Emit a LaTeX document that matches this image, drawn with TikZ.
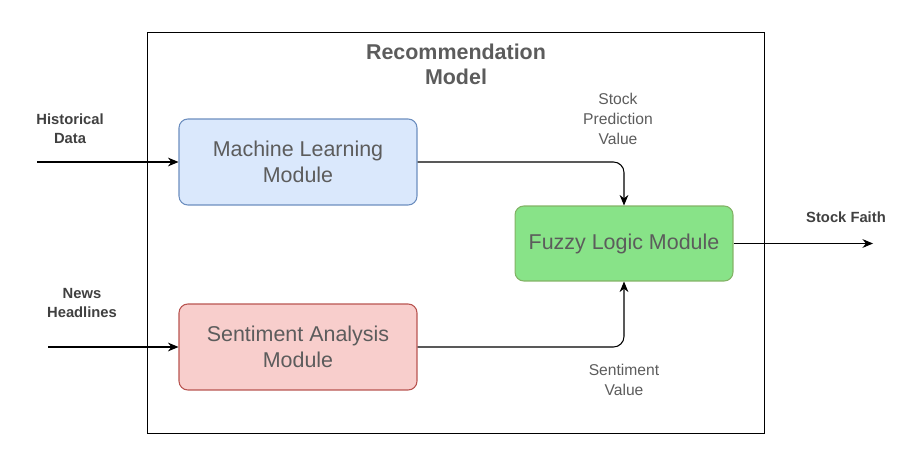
\documentclass[tikz,border=0pt]{standalone}
\usepackage{fontspec}
\setmainfont{Liberation Sans}
\usepackage{xcolor}
\usetikzlibrary{arrows.meta,positioning}

\definecolor{mlfill}{HTML}{DAE8FC}
\definecolor{mldraw}{HTML}{6C8EBF}
\definecolor{safill}{HTML}{F8CECC}
\definecolor{sadraw}{HTML}{B85450}
\definecolor{fzfill}{HTML}{88E388}
\definecolor{fzdraw}{HTML}{82B366}
\definecolor{txtgray}{HTML}{5C5C5C}

\begin{document}
\begin{tikzpicture}[
    x=0.02cm, y=-0.02cm,
    line width=0.6pt,
    module/.style={
        rectangle,
        rounded corners=5pt,
        draw,
        line width=0.6pt,
        minimum width=4.76cm,
        minimum height=1.72cm,
        align=center,
        text=txtgray,
        font=\fontsize{12.2}{14.6}\selectfont
    },
    mlbox/.style={module, fill=mlfill, draw=mldraw},
    sabox/.style={module, fill=safill, draw=sadraw},
    fuzzybox/.style={module, fill=fzfill, draw=fzdraw, minimum width=4.36cm, minimum height=1.5cm},
    arrow/.style={-{Stealth[length=6pt,width=5pt]}, line width=0.6pt},
    inlabel/.style={font=\bfseries\fontsize{8.4}{11}\selectfont, text=black!75, align=center},
    flowlabel/.style={font=\fontsize{8.9}{11.4}\selectfont, text=txtgray, align=center}
]
\useasboundingbox (0,0) rectangle (902,449);

% Frame and title
\node[draw, line width=0.6pt, minimum width=12.36cm, minimum height=8.04cm] (model) at (456,233) {};
\node[font=\bfseries\fontsize{12.2}{14.2}\selectfont, text=txtgray, align=center] (title) at (456,64) {Recommendation\\Model};

% Nodes
\node[mlbox] (ml) at (298,162) {Machine Learning\\Module};
\node[sabox] (sa) at (298,347) {Sentiment Analysis\\Module};
\node[fuzzybox] (fuzzy) at (624,243.5) {Fuzzy Logic Module};

% Inputs and output
\coordinate (hist) at (37,162);
\coordinate (news) at (48,347);
\coordinate (faith) at (873,243.5);
\node[inlabel] (histlabel) at (70,129) {Historical\\Data};
\node[inlabel] (newslabel) at (82,303) {News\\Headlines};
\node[inlabel] (faithlabel) at (846,217) {Stock Faith};

\draw[arrow] (hist) -- (ml.west);
\draw[arrow] (news) -- (sa.west);
\draw[arrow] (fuzzy.east) -- (faith);

% Module outputs into fuzzy logic
\draw[arrow, rounded corners=6pt] (ml.east) -| (fuzzy.north);
\draw[arrow, rounded corners=6pt] (sa.east) -| (fuzzy.south);
\node[flowlabel] (predlabel) at (618,119) {Stock\\Prediction\\Value};
\node[flowlabel] (sentlabel) at (624,380) {Sentiment\\Value};

\end{tikzpicture}
\end{document}
